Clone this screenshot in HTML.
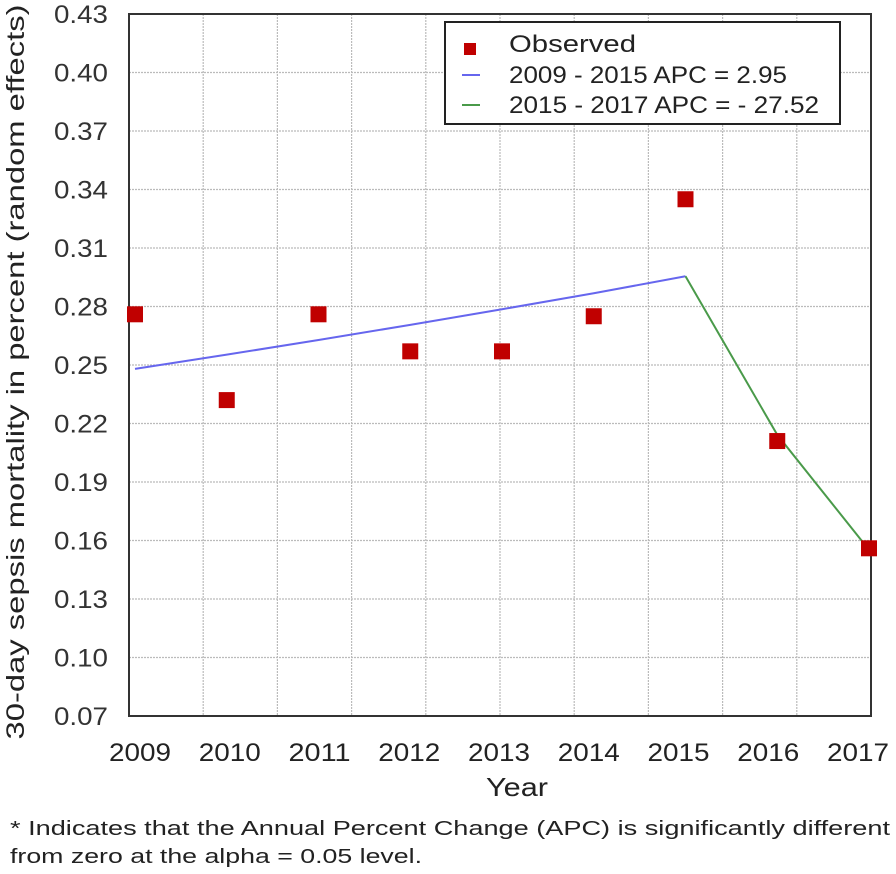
<!DOCTYPE html>
<html><head><meta charset="utf-8"><style>
html,body{margin:0;padding:0;background:#fff;width:896px;height:874px;overflow:hidden}
svg{display:block;font-family:"Liberation Sans",sans-serif}
</style></head><body>
<svg id="chart" width="896" height="874" xmlns="http://www.w3.org/2000/svg"></svg>
<script>
const years = [2009,2010,2011,2012,2013,2014,2015,2016,2017];
const observed = [0.276,0.232,0.276,0.257,0.257,0.275,0.335,0.211,0.156];
const fitYears1 = [2009,2010,2011,2012,2013,2014,2015];
const fit1 = [0.248,0.2553,0.2628,0.2706,0.2786,0.2868,0.2955];
const fitYears2 = [2015,2016,2017];
const fit2 = [0.2955,0.2142,0.1552];
const yTicks = [0.07,0.10,0.13,0.16,0.19,0.22,0.25,0.28,0.31,0.34,0.37,0.40,0.43];
const yTickLabels = ["0.07","0.10","0.13","0.16","0.19","0.22","0.25","0.28","0.31","0.34","0.37","0.40","0.43"];

const svg = document.getElementById('chart');
const NS = 'http://www.w3.org/2000/svg';
const L=129,R=871,T=14,B=716;
function xs(yr){return 135 + (yr-2009)*(869-135)/8;}
function xl(yr){return 140 + (yr-2009)*(858-140)/8;}
function ys(v){return B - (v-0.07)/(0.43-0.07)*(B-T);}
function mk(tag,attrs,parent){const e=document.createElementNS(NS,tag);for(const k in attrs)e.setAttribute(k,attrs[k]);(parent||svg).appendChild(e);return e;}

const grid = mk('g',{});


for(let i=1;i<10;i++){const x=L+i*(R-L)/10;mk('line',{x1:x,x2:x,y1:T,y2:B,stroke:'#bbb','stroke-width':1.2,'stroke-dasharray':'2,1'},grid);}
yTicks.forEach((v,i)=>{
  const y=ys(v);
  if(i>0&&i<yTicks.length-1) mk('line',{x1:L,x2:R,y1:y,y2:y,stroke:'#bbb','stroke-width':1.2,'stroke-dasharray':'2,1'},grid);
  const t=mk('text',{x:108,y:y+9,'text-anchor':'end','font-size':25,fill:'#333',textLength:54,lengthAdjust:'spacingAndGlyphs'});
  t.textContent=yTickLabels[i];
  
  
});
years.forEach(yr=>{
  const t=mk('text',{x:xl(yr),y:761,'text-anchor':'middle','font-size':25,fill:'#222',textLength:62,lengthAdjust:'spacingAndGlyphs'});
  t.textContent=String(yr);
  
  
});
const frame=mk('rect',{x:L,y:T,width:R-L,height:B-T,fill:'none',stroke:'#333','stroke-width':2});



const l1=mk('polyline',{points:fitYears1.map((y,i)=>xs(y)+','+ys(fit1[i])).join(' '),fill:'none',stroke:'#6666ee','stroke-width':2});


const l2=mk('polyline',{points:fitYears2.map((y,i)=>xs(y)+','+ys(fit2[i])).join(' '),fill:'none',stroke:'#4a9a4a','stroke-width':2});



years.forEach((yr,i)=>{
  const r=mk('rect',{x:xs(yr)-8,y:ys(observed[i])-8,width:16,height:16,fill:'#c00000'});
  
  
});

const leg=mk('g',{});


mk('rect',{x:445,y:22,width:395,height:102,fill:'#fff',stroke:'#222','stroke-width':2},leg);
mk('rect',{x:464,y:43,width:12,height:12,fill:'#c00000'},leg);
mk('line',{x1:462,x2:480,y1:75,y2:75,stroke:'#6666ee','stroke-width':2},leg);
mk('line',{x1:462,x2:480,y1:105,y2:105,stroke:'#4a9a4a','stroke-width':2},leg);
[['Observed',52,127],['2009 - 2015 APC = 2.95',83,278],['2015 - 2017 APC = - 27.52',113,310]].forEach(([s,y,w])=>{
  const t=mk('text',{x:509,y:y,'font-size':24,fill:'#222',textLength:w,lengthAdjust:'spacingAndGlyphs'},leg);t.textContent=s;
  
  
});

const xt=mk('text',{x:517,y:796,'text-anchor':'middle','font-size':26,fill:'#222',textLength:62,lengthAdjust:'spacingAndGlyphs'});xt.textContent='Year';


const yt=mk('text',{x:0,y:0,'text-anchor':'middle','font-size':25,fill:'#222',transform:'translate(24,372) rotate(-90)',textLength:735,lengthAdjust:'spacingAndGlyphs'});
yt.textContent='30-day sepsis mortality in percent (random effects)';


const n1=mk('text',{x:10,y:835,'font-size':20,fill:'#222',textLength:880,lengthAdjust:'spacingAndGlyphs'});n1.textContent='* Indicates that the Annual Percent Change (APC) is significantly different';


const n2=mk('text',{x:10,y:863,'font-size':20,fill:'#222',textLength:412,lengthAdjust:'spacingAndGlyphs'});n2.textContent='from zero at the alpha = 0.05 level.';


</script>
</body></html>
